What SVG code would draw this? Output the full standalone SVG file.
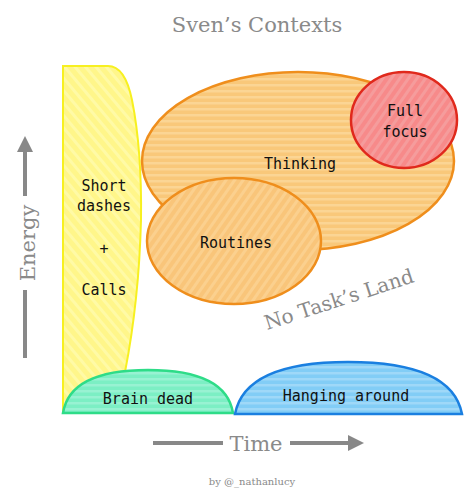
<svg xmlns="http://www.w3.org/2000/svg" width="474" height="499" viewBox="0 0 474 499">
<defs>
<pattern id="pY" width="8" height="8" patternUnits="userSpaceOnUse" patternTransform="rotate(50)"><rect width="8" height="8" fill="#fff68a"/><rect width="8" height="3" fill="#fffaa6"/></pattern>
<pattern id="pO" width="6" height="6" patternUnits="userSpaceOnUse"><rect width="6" height="6" fill="#f9c87a"/><rect width="6" height="2.5" fill="#fbd594"/></pattern>
<pattern id="pR" width="7" height="7" patternUnits="userSpaceOnUse" patternTransform="rotate(-55)"><rect width="7" height="7" fill="#f78a8a"/><rect width="7" height="3" fill="#f59c9c"/></pattern>
<pattern id="pO2" width="7" height="7" patternUnits="userSpaceOnUse" patternTransform="rotate(-55)"><rect width="7" height="7" fill="#f9c57a"/><rect width="7" height="3" fill="#fbd08e"/></pattern>
<pattern id="pG" width="6" height="6" patternUnits="userSpaceOnUse"><rect width="6" height="6" fill="#7cefc4"/><rect width="6" height="2.5" fill="#98f2d2"/></pattern>
<pattern id="pB" width="6" height="6" patternUnits="userSpaceOnUse"><rect width="6" height="6" fill="#82cdf6"/><rect width="6" height="2.5" fill="#9fd8f8"/></pattern>
<marker id="ah" viewBox="0 0 10 10" refX="5" refY="5" markerWidth="4" markerHeight="4" orient="auto"><path d="M0,0 L10,5 L0,10 z" fill="#888"/></marker>
</defs>
<style>
.lbl{font-family:"DejaVu Sans Mono","Liberation Mono",monospace;font-size:15px;fill:#111;text-anchor:middle}
.ser{font-family:"DejaVu Serif","Liberation Serif",serif;fill:#8a8a8a;text-anchor:middle}
.ax{stroke:#888;stroke-width:4;fill:none}
</style>
<rect width="474" height="499" fill="#fff"/>
<text class="ser" x="257" y="32" font-size="21">Sven’s Contexts</text>

<g id="shortdashes">
<path d="M63,66 L108,66 Q125,66 132,100 Q142,150 141,220 Q139,300 125,372 L125,413 L63,413 Z" fill="url(#pY)" stroke="#f7f020" stroke-width="2"/>
<text class="lbl" x="104" y="191">Short</text>
<text class="lbl" x="104" y="211">dashes</text>
<text class="lbl" x="104" y="254">+</text>
<text class="lbl" x="104" y="295">Calls</text>
</g>

<g id="thinking">
<ellipse cx="298" cy="161" rx="156" ry="89" fill="url(#pO)" stroke="#ef8e1c" stroke-width="2.5"/>
<text class="lbl" x="300" y="169">Thinking</text>
</g>

<g id="fullfocus">
<ellipse cx="404" cy="120" rx="53" ry="48" fill="url(#pR)" stroke="#e0291c" stroke-width="2.5"/>
<text class="lbl" x="405" y="116">Full</text>
<text class="lbl" x="405" y="137">focus</text>
</g>

<g id="routines">
<ellipse cx="234" cy="241" rx="87" ry="63" fill="url(#pO2)" stroke="#ef8e1c" stroke-width="2.5"/>
<text class="lbl" x="236" y="248">Routines</text>
</g>

<g id="braindead">
<path d="M63,413 Q70,370 148,370 Q226,370 233,413 Z" fill="url(#pG)" stroke="#2edc88" stroke-width="2.5"/>
<text class="lbl" x="148" y="404">Brain dead</text>
</g>

<g id="hanging">
<path d="M235,414 Q245,362 348,362 Q452,362 462,414 Z" fill="url(#pB)" stroke="#1a7fe0" stroke-width="2.5"/>
<text class="lbl" x="346" y="401">Hanging around</text>
</g>

<text class="ser" x="0" y="0" font-size="20" transform="translate(341,306) rotate(-18)">No Task’s Land</text>

<g id="connectors">
<line class="ax" x1="25" y1="196" x2="25" y2="144" marker-end="url(#ah)"/>
<line class="ax" x1="25" y1="290" x2="25" y2="358"/>
<line class="ax" x1="153" y1="443" x2="223" y2="443"/>
<line class="ax" x1="290" y1="443" x2="356" y2="443" marker-end="url(#ah)"/>
</g>
<text class="ser" x="0" y="0" font-size="21" transform="translate(35,243) rotate(-90)">Energy</text>
<text class="ser" x="256" y="451" font-size="21">Time</text>
<text class="ser" x="252" y="485" font-size="10">by @_nathanlucy</text>
</svg>
